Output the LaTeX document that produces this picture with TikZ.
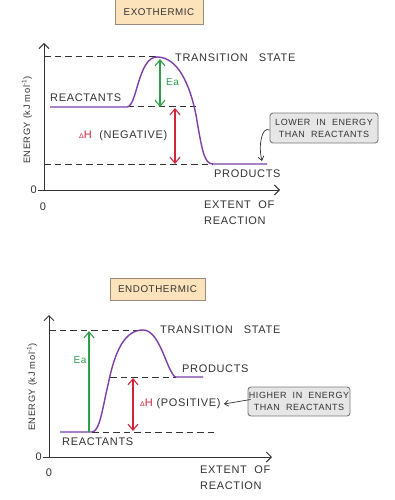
\documentclass[tikz,border=0pt]{standalone}
\usepackage{fontspec}
\setmainfont{Liberation Sans}[LetterSpace=6]
\usetikzlibrary{arrows.meta}
\definecolor{curvepurple}{HTML}{7B3FA6}
\definecolor{eagreen}{HTML}{2E9E4A}
\definecolor{dhred}{HTML}{D2233C}
\definecolor{tagfill}{HTML}{FCE3BC}
\definecolor{tagdraw}{HTML}{9A8A78}
\definecolor{notefill}{HTML}{E6E6E6}
\definecolor{notedraw}{HTML}{7A7A7A}
\definecolor{ink}{HTML}{333333}
\tikzset{
  lbl/.style={inner sep=0pt, text=ink, font=\fontsize{11}{13}\selectfont},
  small/.style={inner sep=0pt, text=ink, font=\fontsize{9.3}{11}\selectfont},
  tag/.style={draw=tagdraw, fill=tagfill, text=ink, line width=0.9pt, font=\fontsize{9.8}{11}\selectfont, inner sep=0pt},
  note/.style={draw=notedraw, fill=notefill, text=ink, line width=0.9pt, rounded corners=3pt, align=center, font=\fontsize{9}{12}\selectfont, inner sep=0pt},
  axis/.style={draw=ink, line width=1pt, -{Straight Barb[length=5pt,width=10pt]}},
  level/.style={draw=ink, dashed, dash pattern=on 6.5pt off 4pt, line width=1pt},
  curve/.style={curvepurple, line width=1.4pt},
  gap/.style={line width=1.1pt, {Straight Barb[length=6pt,width=10pt]}-{Straight Barb[length=6pt,width=10pt]}},
  onehead/.style={line width=1.1pt, -{Straight Barb[length=6pt,width=10pt]}},
  pointer/.style={draw=ink, line width=0.7pt, -{Straight Barb[length=4pt,width=6pt]}}
}
\begin{document}
\begin{tikzpicture}[x=1pt,y=-1pt]
\useasboundingbox[fill=white] (0,0) rectangle (395,500);

% ================= EXOTHERMIC =================
\node[tag, minimum width=88pt, minimum height=25pt] (exotag) at (159,12) {EXOTHERMIC};

\coordinate (eo) at (44,190);
\coordinate (eytop) at (44,43);
\coordinate (exend) at (280,190);
\draw[axis] (eo) -- (eytop);
\draw[axis] (eo) -- (exend);
\draw[draw=ink, line width=1pt] (eo) -- ++(-6,0);
\node[lbl, anchor=east] (ezeroy) at (37,190) {0};
\node[lbl] (ezerox) at (43,207) {0};
\node[small, rotate=90] (eylab) at (27,120) {ENERGY (kJ mol\textsuperscript{-1})};

% levels
\coordinate (ets0) at (44,57);
\coordinate (etsp) at (157,57);
\coordinate (er0) at (127,107);
\coordinate (er1) at (196,107);
\coordinate (ep0) at (44,164);
\coordinate (ep1) at (213,164);
\draw[level] (ets0) -- (etsp);
\draw[level] (er0) -- (er1);
\draw[level] (ep0) -- (ep1);

% curve
\coordinate (erstart) at (50,107);
\coordinate (epend) at (267,164);
\draw[curve] (erstart) -- (er0) .. controls (137,107) and (138,57) .. (etsp)
  .. controls (178,57) and (190,85) .. (196,115)
  .. controls (202,150) and (204,164) .. (ep1) -- (epend);

% Ea and dH
\coordinate (eea1) at (160,59);
\coordinate (eea2) at (160,107);
\draw[gap, eagreen] (eea1) -- (eea2);
\node[lbl, eagreen, anchor=west, font=\fontsize{10}{12}\selectfont] (eealab) at (166,82) {Ea};
\coordinate (edh1) at (175,108);
\coordinate (edh2) at (175,164);
\draw[gap, dhred] (edh1) -- (edh2);
\node[lbl, anchor=west] (edhlab) at (79,136) {{\color{dhred}\fontsize{7}{8}\selectfont Δ}{\color{dhred}H}\ \ (NEGATIVE)};

\node[lbl, anchor=west] (etslab) at (175,58) {TRANSITION\ \ \ STATE};
\node[lbl, anchor=west] (erlab) at (50,98) {REACTANTS};
\node[lbl, anchor=west] (eplab) at (214,174) {PRODUCTS};
\node[lbl, anchor=west] (eext) at (204,205) {EXTENT\ \ OF};
\node[lbl, anchor=west] (ereac) at (204,221) {REACTION};

\node[note, minimum width=108pt, minimum height=30pt] (enote) at (324,128) {LOWER\ \ IN\ \ ENERGY\\THAN\ \ REACTANTS};
\coordinate (eptr) at (262,161);
\draw[pointer] ([yshift=-2pt]enote.west) .. controls (262,126) and (258,145) .. (eptr);

% ================= ENDOTHERMIC =================
\node[tag, minimum width=95pt, minimum height=22pt] (endotag) at (157.5,289) {ENDOTHERMIC};

\coordinate (no) at (49,457);
\coordinate (nytop) at (49,315);
\coordinate (nxend) at (272,457);
\draw[axis] (no) -- (nytop);
\draw[axis] (no) -- (nxend);
\draw[draw=ink, line width=1pt] (no) -- ++(-6,0);
\node[lbl, anchor=east] (nzeroy) at (42,457) {0};
\node[lbl] (nzerox) at (49,473) {0};
\node[small, rotate=90] (nylab) at (32,387) {ENERGY (kJ mol\textsuperscript{-1})};

\coordinate (nts0) at (49,330);
\coordinate (ntsp) at (143,330);
\coordinate (np0) at (110,377);
\coordinate (np1) at (176,377);
\coordinate (nr0) at (92,432);
\coordinate (nr1) at (217,432);
\draw[level] (nts0) -- (ntsp);
\draw[level] (np0) -- (np1);
\draw[level] (nr0) -- (nr1);

\coordinate (nrstart) at (60,432);
\coordinate (npend) at (203,377);
\draw[curve] (nrstart) -- (nr0) .. controls (100,432) and (103,405) .. (108,385)
  .. controls (115,350) and (125,330) .. (ntsp)
  .. controls (158,330) and (165,362) .. (172,373)
  .. controls (174,377) and (176,377) .. (np1) -- (npend);

\coordinate (nea1) at (89,432);
\coordinate (nea2) at (89,331);
\draw[onehead, eagreen] (nea1) -- (nea2);
\node[lbl, eagreen, font=\fontsize{10}{12}\selectfont] (nealab) at (80,360) {Ea};
\coordinate (ndh1) at (133,378);
\coordinate (ndh2) at (133,431);
\draw[gap, dhred] (ndh1) -- (ndh2);
\node[lbl, anchor=west] (ndhlab) at (140,404) {{\color{dhred}\fontsize{7}{8}\selectfont Δ}{\color{dhred}H}\ (POSITIVE)};

\node[lbl, anchor=west] (ntslab) at (160,330) {TRANSITION\ \ \ STATE};
\node[lbl, anchor=west] (nplab) at (182,369) {PRODUCTS};
\node[lbl, anchor=west] (nrlab) at (62,442) {REACTANTS};
\node[lbl, anchor=west] (next) at (200,470) {EXTENT\ \ OF};
\node[lbl, anchor=west] (nreac) at (200,486) {REACTION};

\node[note, minimum width=102pt, minimum height=29pt] (nnote) at (299,401.5) {HIGHER\ \ IN\ \ ENERGY\\THAN\ \ REACTANTS};
\coordinate (nptr) at (224,404);
\draw[pointer] ([xshift=3pt,yshift=2pt]nnote.west) -- (nptr);
\end{tikzpicture}
\end{document}
